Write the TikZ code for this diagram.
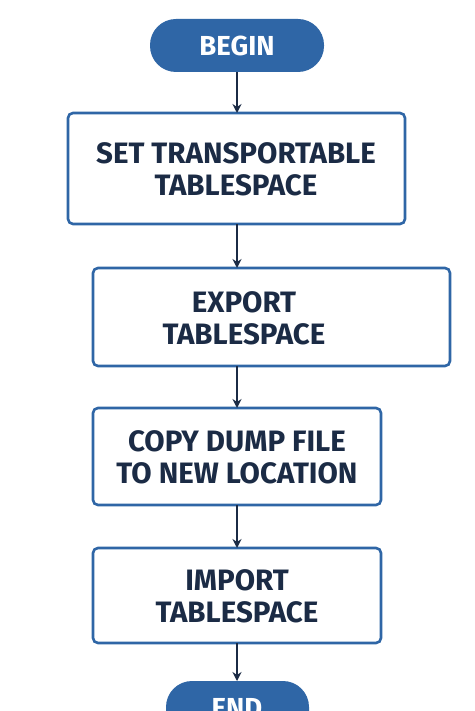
\documentclass[tikz,border=0pt]{standalone}
\usepackage{fontspec}
\setmainfont{Fira Sans}
\usetikzlibrary{arrows.meta}
\definecolor{bblue}{HTML}{2F66A6}
\definecolor{navy}{HTML}{1B2B45}
\tikzset{
  px/.style={x=1pt,y=-1pt},
  procbox/.style={draw=bblue, line width=2.6pt, rounded corners=5pt, fill=white},
  term/.style={fill=bblue, rounded corners=26pt},
  lbl/.style={text=navy, font=\fontsize{29.5}{32}\selectfont\bfseries, align=center},
  tlbl/.style={text=white, font=\fontsize{27.5}{30}\selectfont\bfseries},
  flow/.style={draw=navy, line width=2.2pt, -{Stealth[length=9pt,width=9pt]}}
}
\begin{document}
\begin{tikzpicture}[px]
\useasboundingbox (0,0) rectangle (474,711);
\clip (0,0) rectangle (474,711);
\fill[white] (0,0) rectangle (474,711);
% terminals
\path[term] (150,19) rectangle (324,72);
\node[tlbl] (begin) at (237,45.5) {BEGIN};
\coordinate (beginb) at (237,72);
\path[term] (166,681) rectangle (309,740);
\node[tlbl] (end) at (237,708) {END};
\coordinate (endt) at (237,681);
% boxes
\draw[procbox] (68,113) rectangle (405,224);
\node[lbl] (b1) at (236,169) {SET TRANSPORTABLE\\TABLESPACE};
\draw[procbox] (93,268) rectangle (450,366);
\node[lbl] (b2) at (244,318) {EXPORT\\TABLESPACE};
\draw[procbox] (93,408) rectangle (381,505);
\node[lbl] (b3) at (237,457) {COPY DUMP FILE\\TO NEW LOCATION};
\draw[procbox] (93,548) rectangle (381,643);
\node[lbl] (b4) at (237,596) {IMPORT\\TABLESPACE};
% connector anchors
\coordinate (b1t) at (237,113); \coordinate (b1b) at (237,224);
\coordinate (b2t) at (237,268); \coordinate (b2b) at (237,366);
\coordinate (b3t) at (237,408); \coordinate (b3b) at (237,505);
\coordinate (b4t) at (237,548); \coordinate (b4b) at (237,643);
\draw[flow] (beginb) -- (b1t);
\draw[flow] (b1b) -- (b2t);
\draw[flow] (b2b) -- (b3t);
\draw[flow] (b3b) -- (b4t);
\draw[flow] (b4b) -- (endt);
\end{tikzpicture}
\end{document}
